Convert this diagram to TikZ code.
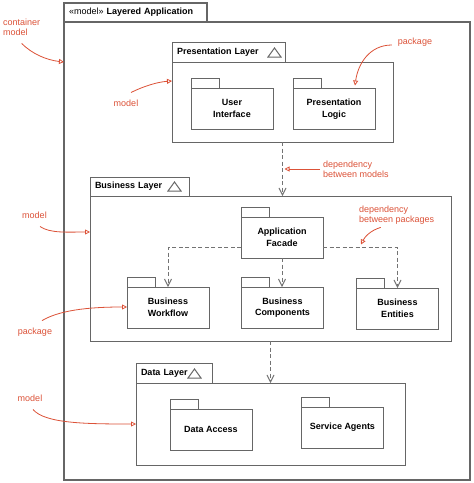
\documentclass[tikz,border=0pt]{standalone}
\usepackage{fontspec}
\setmainfont{Liberation Sans}
\usetikzlibrary{arrows.meta,positioning}
\definecolor{notered}{HTML}{DC5238}
\definecolor{boxgray}{HTML}{666666}
\newcommand{\pkgfont}{\fontsize{9}{11.5}\selectfont\bfseries}
\newcommand{\notefont}{\fontsize{9}{10}\selectfont}
\tikzstyle{layer} = [draw=boxgray, line width=1pt, fill=white, inner sep=0pt, outer sep=0pt]
\tikzstyle{tab} = [draw=boxgray, line width=1pt, fill=white, anchor=south west, inner xsep=5pt, inner ysep=0pt, outer sep=0pt, minimum height=20pt, align=left, font=\pkgfont]
\tikzstyle{pkg} = [draw=boxgray, line width=1pt, fill=white, minimum width=82pt, minimum height=41pt, inner sep=1pt, outer sep=0pt, align=center, font=\pkgfont]
\tikzstyle{pkgline} = [draw=boxgray, line width=1pt]
\tikzstyle{dep} = [draw=black!55, line width=0.9pt, dash pattern=on 4pt off 2.5pt, -{Straight Barb[length=7pt,width=7pt]}]
\tikzstyle{notetext} = [text=notered, font=\notefont, inner sep=1pt, align=left]
\tikzstyle{note} = [draw=notered, line width=0.8pt, -{Triangle[open,length=5pt,width=5pt]}]
% small open triangle in a layer tab
\newcommand{\layertri}[2]{\draw[pkgline] ([xshift=#2]#1.south west) ++(0,-5) -- ++(13,0) -- ++(-6.5,-9) -- cycle;}

\begin{document}
\begin{tikzpicture}[x=1pt,y=-1pt]
  \fill[white] (0,0) rectangle (474,483);
  \useasboundingbox (0,0) rectangle (474,483);
  % container model
  \node[layer, minimum width=406pt, minimum height=458pt, line width=1.2pt] (app) at (267,251) {};
  \node[tab, text width=133pt, minimum height=19pt, line width=1.2pt] (apptab) at (app.north west) {{\mdseries «model»} Layered Application};
  % layers
  \node[layer, minimum width=221pt, minimum height=80pt] (pres) at (282.5,102) {};
  \node[tab, text width=103pt] (prestab) at (pres.north west) {Presentation Layer};
  \layertri{prestab}{96pt}
  \node[layer, minimum width=361pt, minimum height=145pt] (bus) at (270.5,268.5) {};
  \node[tab, text width=89pt, minimum height=19pt] (bustab) at (bus.north west) {Business Layer};
  \layertri{bustab}{78pt}
  \node[layer, minimum width=269pt, minimum height=82pt] (data) at (270.5,424) {};
  \node[tab, text width=66pt] (datatab) at (data.north west) {Data Layer};
  \layertri{datatab}{52pt}
  % packages
  \node[pkg] (ui) at (232,108.5) {User\\Interface};
  \node[pkg] (logic) at (334,109) {Presentation\\Logic};
  \node[pkg] (facade) at (282,237.5) {Application\\Facade};
  \node[pkg] (wflow) at (168,307.5) {Business\\Workflow};
  \node[pkg] (comp) at (282.5,307.5) {Business\\Components};
  \node[pkg] (ent) at (397.5,308.5) {Business\\Entities};
  \node[pkg] (access) at (211,429.5) {Data Access};
  \node[pkg] (agents) at (342.5,427.5) {Service Agents};
  \foreach \p in {ui,logic,facade,wflow,comp,ent,access,agents}
    \draw[pkgline] (\p.north west) rectangle ++(28,-10);
  % dependencies
  \draw[dep] (pres.south) -- coordinate (pbmid) (pres.south |- bus.north);
  \draw[dep] (bus.south) -- (bus.south |- data.north);
  \draw[dep] (facade.south) -- (facade.south |- comp.north);
  \draw[dep] ([yshift=-10pt]facade.west) -| (wflow.north);
  \draw[dep] ([yshift=-10pt]facade.east) -| (ent.north);
  % notes
  \node[notetext, anchor=west] (lcont) at (2,27) {container\\model};
  \node[notetext] (lmodp) at (126,103) {model};
  \node[notetext] (lpkgp) at (415,42) {package};
  \node[notetext, anchor=west] (ldepm) at (322,169) {dependency\\between models};
  \node[notetext] (lmodb) at (34.5,215) {model};
  \node[notetext] (lpkgb) at (35,332) {package};
  \node[notetext, anchor=west] (ldepp) at (358,215) {dependency\\between packages};
  \node[notetext] (lmodd) at (30,398) {model};
  \draw[note] ([yshift=-7pt]lcont.south) .. controls +(10,10) and +(-18,-2) .. ([yshift=-40pt]app.north west);
  \draw[note] ([xshift=5pt,yshift=6pt]lmodp.north) .. controls +(12,-6) and +(-15,1) .. ([yshift=-19pt]pres.north west);
  \draw[note] ([xshift=-5pt,yshift=-3pt]lpkgp.west) .. controls +(-22,0) and +(3,-22) .. ([xshift=62pt,yshift=3pt]logic.north west);
  \draw[note] ([xshift=-2pt]ldepm.west) -- ([xshift=2pt]pbmid);
  \draw[note] ([xshift=5.5pt,yshift=-7pt]lmodb.south) .. controls +(10,7) and +(-22,0) .. ([yshift=-36pt]bus.north west);
  \draw[note] ([xshift=7pt,yshift=6pt]lpkgb.north) .. controls +(20,-12) and +(-30,0) .. ([yshift=-20pt]wflow.north west);
  \draw[note] ([xshift=-16pt,yshift=-2pt]ldepp.south) .. controls +(-10,3) and +(4,-8) .. ([xshift=38pt,yshift=-7pt]facade.east);
  \draw[note] ([xshift=3pt,yshift=-7pt]lmodd.south) .. controls +(12,14) and +(-50,0) .. ([yshift=-41pt]data.north west);
\end{tikzpicture}
\end{document}
